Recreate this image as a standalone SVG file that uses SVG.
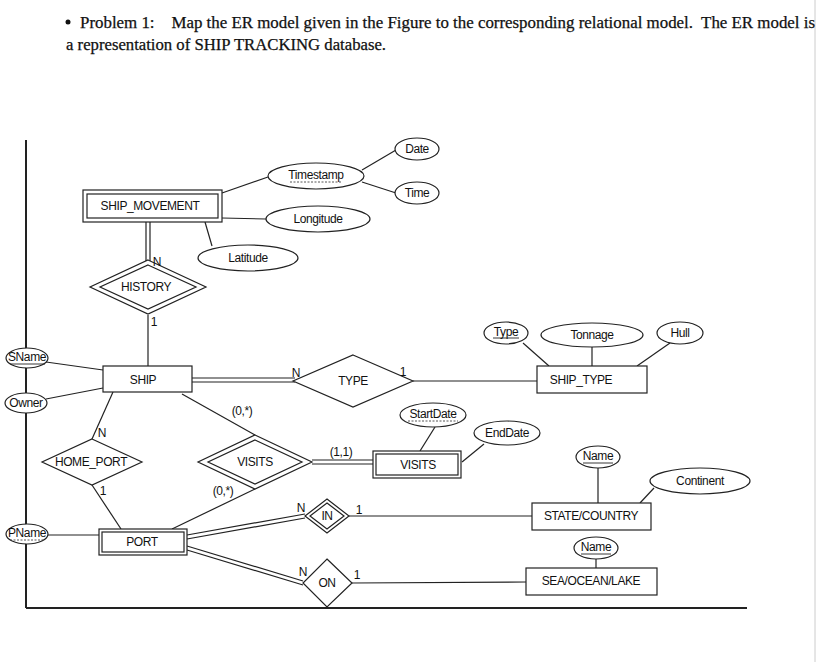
<svg xmlns="http://www.w3.org/2000/svg" width="823" height="662" viewBox="0 0 823 662">
<style>
.s{fill:none;stroke:#222;stroke-width:1.2}
.b{fill:#fff;stroke:#222;stroke-width:1.2}
.t{font-family:"Liberation Sans",Arial,sans-serif;font-size:12px;fill:#111;text-anchor:middle;dominant-baseline:central;letter-spacing:-0.4px}
.h{font-family:"Liberation Serif","Times New Roman",serif;font-size:16px;fill:#111;stroke:#111;stroke-width:0.25}
.u{stroke:#222;stroke-width:0.9}
.d{stroke:#444;stroke-width:0.9;stroke-dasharray:2 1.5}
</style>
<rect width="823" height="662" fill="#fff"/>
<line x1="815" y1="0" x2="815" y2="662" stroke="#ccc" stroke-width="1"/>
<g id="title">
<circle cx="68" cy="22" r="2.5" fill="#111"/>
<text class="h" x="80" y="28" xml:space="preserve" textLength="735" lengthAdjust="spacingAndGlyphs">Problem 1:    Map the ER model given in the Figure to the corresponding relational model.  The ER model is</text>
<text class="h" x="66" y="50" textLength="320" lengthAdjust="spacingAndGlyphs">a representation of SHIP TRACKING database.</text>
</g>
<g id="frame">
<line x1="26" y1="140" x2="26" y2="608" stroke="#222" stroke-width="2"/>
<line x1="26" y1="608" x2="747" y2="608" stroke="#222" stroke-width="2"/>
</g>
<g id="connectors" class="s">
<line x1="222" y1="193" x2="268" y2="177"/>
<line x1="222" y1="218" x2="266" y2="219"/>
<line x1="205" y1="222" x2="212" y2="246"/>
<line x1="362" y1="170" x2="396" y2="150"/>
<line x1="362" y1="182" x2="396" y2="193"/>
<line x1="146" y1="222" x2="146" y2="261"/><line x1="150" y1="222" x2="150" y2="261"/>
<line x1="148" y1="315" x2="148" y2="366"/>
<line x1="46" y1="362" x2="103" y2="370"/>
<line x1="46" y1="399" x2="103" y2="388"/>
<line x1="192" y1="378" x2="295" y2="378"/><line x1="192" y1="382" x2="295" y2="382"/>
<line x1="413" y1="381" x2="537" y2="381"/>
<line x1="523" y1="343" x2="549" y2="366"/>
<line x1="592" y1="347" x2="592" y2="366"/>
<line x1="670" y1="343" x2="637" y2="366"/>
<line x1="113" y1="392" x2="92" y2="439"/>
<line x1="92" y1="485" x2="121" y2="529"/>
<line x1="182" y1="394" x2="255" y2="435"/>
<line x1="255" y1="489" x2="172" y2="529"/>
<line x1="312" y1="460" x2="373" y2="460"/><line x1="312" y1="464" x2="373" y2="464"/>
<line x1="435" y1="427" x2="420" y2="451"/>
<line x1="462" y1="462" x2="484" y2="444"/>
<line x1="48" y1="535" x2="99" y2="535"/>
<line x1="187" y1="535" x2="305" y2="514"/><line x1="187" y1="539" x2="305" y2="518"/>
<line x1="349" y1="516" x2="532" y2="516"/>
<line x1="598" y1="468" x2="598" y2="503"/>
<line x1="640" y1="503" x2="654" y2="488"/>
<line x1="187" y1="546" x2="303" y2="581"/><line x1="187" y1="550" x2="303" y2="585"/>
<line x1="352" y1="583" x2="526" y2="582"/>
<line x1="596" y1="559" x2="596" y2="568"/>
</g>
<g id="ship_movement"><rect class="b" x="83" y="190" width="139" height="32"/><rect class="b" x="87" y="194" width="131" height="24"/><text class="t" x="150" y="206">SHIP_MOVEMENT</text></g>
<g id="timestamp"><ellipse class="b" cx="316" cy="176" rx="48" ry="13"/><text class="t" x="316" y="175">Timestamp</text><line class="d" x1="290" y1="182" x2="342" y2="182"/></g>
<g id="date"><ellipse class="b" cx="417" cy="149" rx="22" ry="11"/><text class="t" x="417" y="149">Date</text></g>
<g id="time"><ellipse class="b" cx="417" cy="193" rx="22" ry="11"/><text class="t" x="417" y="193">Time</text></g>
<g id="longitude"><ellipse class="b" cx="318" cy="219" rx="52" ry="13"/><text class="t" x="318" y="219">Longitude</text></g>
<g id="latitude"><ellipse class="b" cx="248" cy="258" rx="50" ry="13"/><text class="t" x="248" y="258">Latitude</text></g>
<g id="history"><polygon class="b" points="148,260 206,287 148,314 90,287"/><polygon class="b" points="148,265 196,287 148,309 100,287"/><text class="t" x="146" y="287">HISTORY</text></g>
<g id="ship"><rect class="b" x="103" y="366" width="89" height="26"/><text class="t" x="143" y="380">SHIP</text></g>
<g id="sname"><ellipse class="b" cx="27" cy="358" rx="21" ry="10"/><text class="t" x="27" y="357">SName</text><line class="u" x1="10" y1="364" x2="45" y2="364"/></g>
<g id="owner"><ellipse class="b" cx="26" cy="403" rx="21" ry="10"/><text class="t" x="26" y="403">Owner</text></g>
<g id="type"><polygon class="b" points="353,355 413,381 353,407 293,381"/><text class="t" x="353" y="381">TYPE</text></g>
<g id="ship_type"><rect class="b" x="537" y="366" width="110" height="27"/><text class="t" x="581" y="380">SHIP_TYPE</text></g>
<g id="type_attr"><ellipse class="b" cx="506" cy="333" rx="22" ry="11"/><text class="t" x="506" y="332">Type</text><line class="u" x1="493" y1="338" x2="519" y2="338"/></g>
<g id="tonnage"><ellipse class="b" cx="592" cy="335" rx="51" ry="12"/><text class="t" x="592" y="335">Tonnage</text></g>
<g id="hull"><ellipse class="b" cx="680" cy="333" rx="23" ry="11"/><text class="t" x="680" y="333">Hull</text></g>
<g id="home_port"><polygon class="b" points="92,439 142,462 92,485 42,462"/><text class="t" x="91" y="462">HOME_PORT</text></g>
<g id="visits_rel"><polygon class="b" points="255,435 312,462 255,489 198,462"/><polygon class="b" points="255,440 302,462 255,484 208,462"/><text class="t" x="255" y="462">VISITS</text></g>
<g id="visits_ent"><rect class="b" x="373" y="451" width="88" height="27"/><rect class="b" x="376" y="454" width="82" height="21"/><text class="t" x="418" y="465">VISITS</text></g>
<g id="startdate"><ellipse class="b" cx="433" cy="415" rx="33" ry="12"/><text class="t" x="433" y="414">StartDate</text><line class="d" x1="408" y1="421" x2="458" y2="421"/></g>
<g id="enddate"><ellipse class="b" cx="507" cy="433" rx="33" ry="12"/><text class="t" x="507" y="433">EndDate</text></g>
<g id="port"><rect class="b" x="99" y="529" width="88" height="26"/><rect class="b" x="102" y="532" width="82" height="20"/><text class="t" x="142" y="542">PORT</text></g>
<g id="pname"><ellipse class="b" cx="27" cy="534" rx="21" ry="10"/><text class="t" x="27" y="533">PName</text><line class="d" x1="10" y1="540" x2="44" y2="540"/></g>
<g id="in"><polygon class="b" points="327,499 349,516 327,533 305,516"/><polygon class="b" points="327,503 344,516 327,529 310,516"/><text class="t" x="327" y="516">IN</text></g>
<g id="state_country"><rect class="b" x="532" y="503" width="119" height="27"/><text class="t" x="591" y="516">STATE/COUNTRY</text></g>
<g id="name1"><ellipse class="b" cx="598" cy="457" rx="22" ry="11"/><text class="t" x="598" y="456">Name</text><line class="u" x1="583" y1="463" x2="613" y2="463"/></g>
<g id="continent"><ellipse class="b" cx="700" cy="481" rx="50" ry="13"/><text class="t" x="700" y="481">Continent</text></g>
<g id="on"><polygon class="b" points="327,559 352,583 327,607 303,583"/><text class="t" x="327" y="583">ON</text></g>
<g id="sea"><rect class="b" x="526" y="568" width="131" height="27"/><text class="t" x="591" y="581">SEA/OCEAN/LAKE</text></g>
<g id="name2"><ellipse class="b" cx="596" cy="548" rx="22" ry="11"/><text class="t" x="596" y="547">Name</text><line class="u" x1="581" y1="554" x2="611" y2="554"/></g>
<g id="labels" class="t">
<text x="157" y="262">N</text><text x="154" y="322">1</text>
<text x="296" y="373">N</text><text x="403" y="372">1</text>
<text x="102" y="433">N</text><text x="103" y="491">1</text>
<text x="242" y="411">(0,*)</text><text x="223" y="491">(0,*)</text>
<text x="341" y="452">(1,1)</text>
<text x="301" y="508">N</text><text x="359" y="510">1</text>
<text x="303" y="572">N</text><text x="357" y="575">1</text>
</g>
</svg>
